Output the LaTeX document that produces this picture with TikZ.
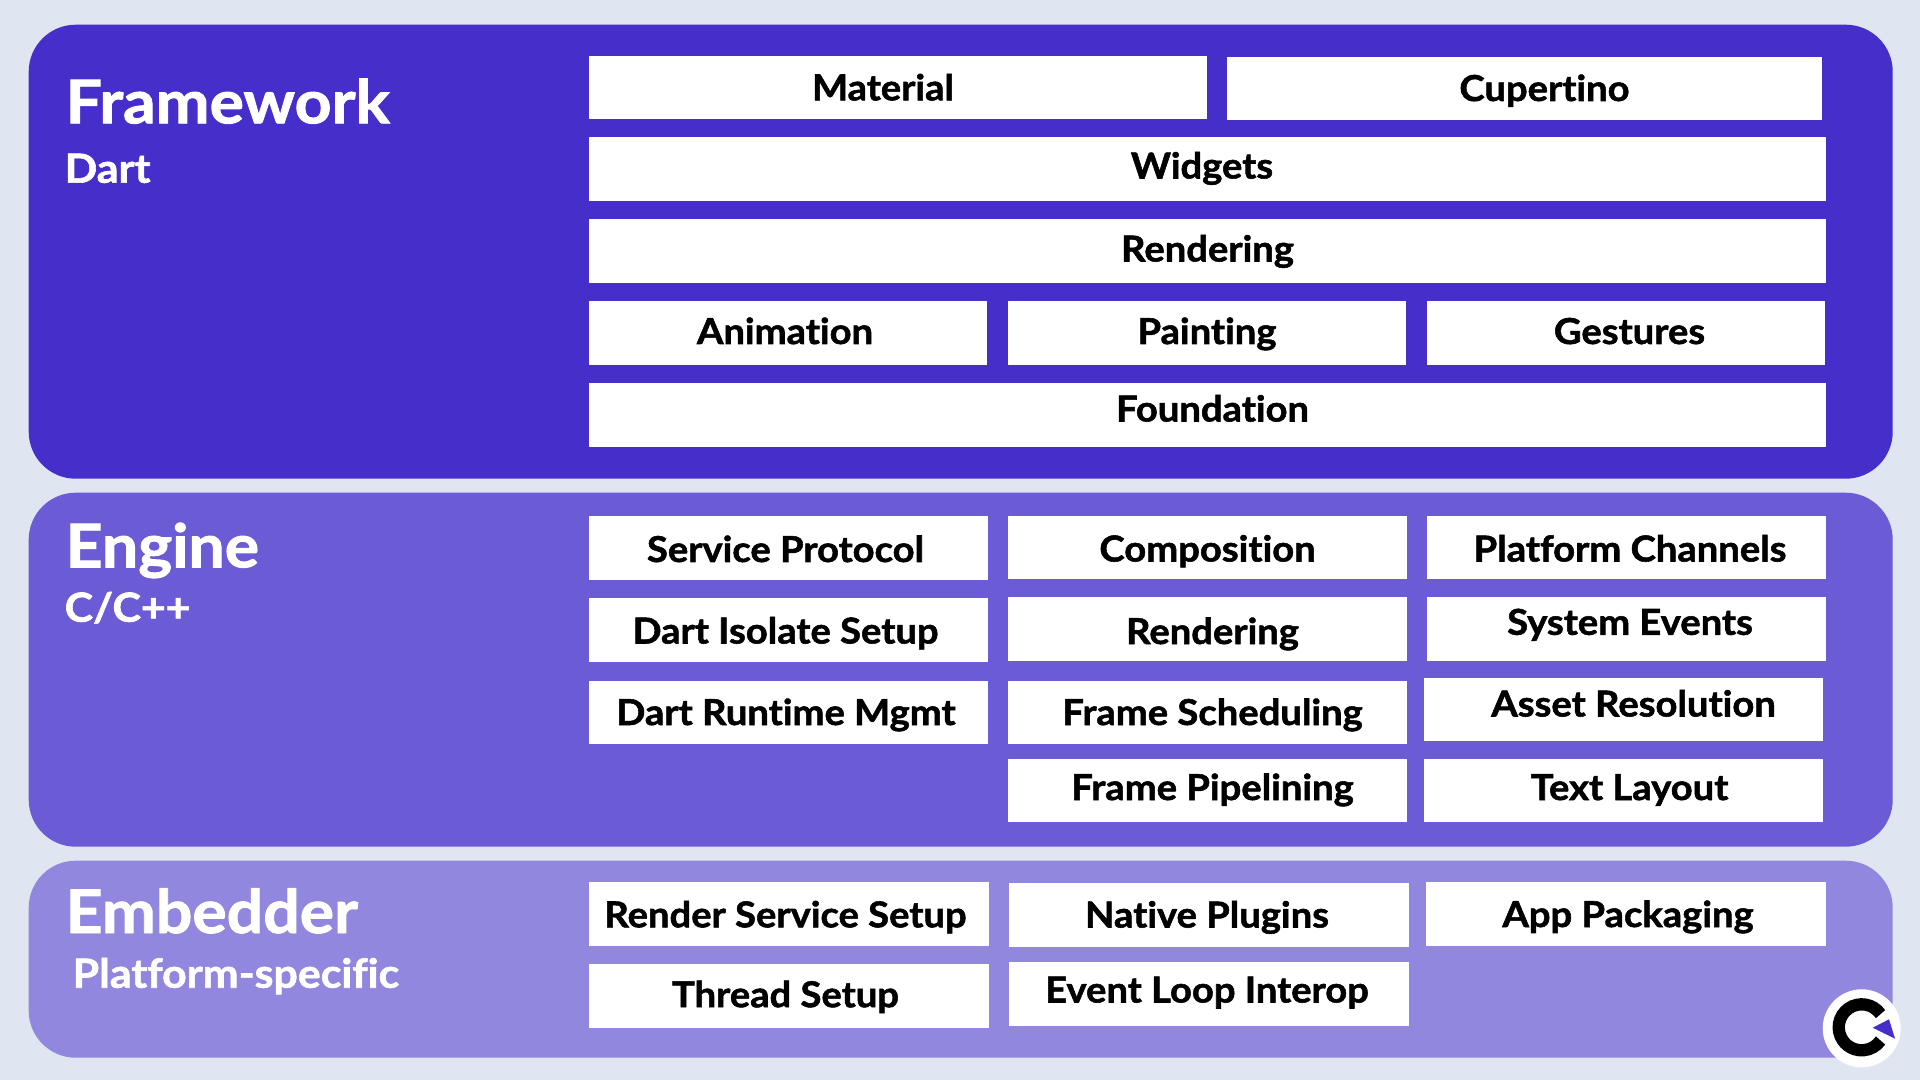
\documentclass[tikz,border=0pt]{standalone}
\usepackage{fontspec}
\setmainfont{Lato}[Ligatures=NoCommon, FakeStretch=1.07, BoldFeatures={FakeBold=1.5}]
\usetikzlibrary{
    positioning,
    calc
}
\definecolor{pagebg}{HTML}{DFE6F2}
\definecolor{frameworkbg}{HTML}{452ECA}
\definecolor{enginebg}{HTML}{6B5BD5}
\definecolor{embedderbg}{HTML}{9187DF}
\newcommand{\shifted}[3]{\raisebox{#2}{\makebox[0pt][c]{\kern #1 #3\kern -#1}}}
\tikzset{
    layer/.style={rounded corners=0.47cm, inner sep=0pt, anchor=north west},
    box/.style={fill=white, inner sep=0pt, text=black, minimum height=0.635cm, text height=0pt, text depth=0pt, font=\fontsize{10.15pt}{12pt}\bfseries},
    title/.style={text=white, anchor=base west, inner sep=0pt, font=\fontsize{17.1pt}{20pt}\bfseries},
    subtitle/.style={text=white, anchor=base west, inner sep=0pt, font=\fontsize{11.4pt}{13pt}\bfseries}
}
\begin{document}
\begin{tikzpicture}
    \useasboundingbox (0, 0) rectangle (19.2, -10.8);
    \fill[pagebg] (0, 0) rectangle (19.2, -10.8);
    \node[layer, fill=frameworkbg, minimum width=18.64cm, minimum height=4.54cm] (framework) at (0.28, -0.24) {};
    \node[layer, fill=enginebg, minimum width=18.64cm, minimum height=3.54cm] (engine) at (0.28, -4.92) {};
    \node[layer, fill=embedderbg, minimum width=18.64cm, minimum height=1.97cm] (embedder) at (0.28, -8.60) {};
    \node[title] (frameworkt) at (0.65, -1.233) {Framework};
    \node[subtitle] (frameworks) at (0.64, -1.827) {Dart};
    \node[title] (enginet) at (0.65, -5.673) {Engine};
    \node[subtitle] (engines) at (0.64, -6.217) {C/C++};
    \node[title] (embeddert) at (0.65, -9.33) {Embedder};
    \node[subtitle] (embedders) at (0.72, -9.877) {Platform-specific};
    \node[box, minimum width=6.18cm] (material) at (8.98, -0.873) {\shifted{-0.15cm}{-0.13cm}{Material}};
    \node[box, minimum width=5.95cm] (cupertino) at (15.245, -0.885) {\shifted{0.2cm}{-0.125cm}{Cupertino}};
    \node[box, minimum width=12.37cm] (widgets) at (12.075, -1.692) {\shifted{-0.055cm}{-0.093cm}{Widgets}};
    \node[box, minimum width=12.37cm] (renderingf) at (12.075, -2.51) {\shifted{0cm}{-0.105cm}{Rendering}};
    \node[box, minimum width=3.98cm] (animation) at (7.88, -3.33) {\shifted{-0.03cm}{-0.11cm}{Animation}};
    \node[box, minimum width=3.98cm] (painting) at (12.07, -3.33) {\shifted{0cm}{-0.11cm}{Painting}};
    \node[box, minimum width=3.98cm] (gestures) at (16.255, -3.33) {\shifted{0.04cm}{-0.11cm}{Gestures}};
    \node[box, minimum width=12.37cm] (foundation) at (12.075, -4.15) {\shifted{0.05cm}{-0.065cm}{Foundation}};
    \node[box, minimum width=3.99cm] (service) at (7.885, -5.48) {\shifted{-0.03cm}{-0.14cm}{Service Protocol}};
    \node[box, minimum width=3.99cm] (composition) at (12.075, -5.475) {\shifted{0cm}{-0.14cm}{Composition}};
    \node[box, minimum width=3.99cm] (channels) at (16.265, -5.475) {\shifted{0.035cm}{-0.14cm}{Platform Channels}};
    \node[box, minimum width=3.99cm] (isolate) at (7.885, -6.30) {\shifted{-0.03cm}{-0.135cm}{Dart Isolate Setup}};
    \node[box, minimum width=3.99cm] (renderinge) at (12.075, -6.29) {\shifted{0.05cm}{-0.15cm}{Rendering}};
    \node[box, minimum width=3.99cm] (events) at (16.265, -6.29) {\shifted{0.035cm}{-0.058cm}{System Events}};
    \node[box, minimum width=3.99cm] (runtime) at (7.885, -7.123) {\shifted{-0.025cm}{-0.127cm}{Dart Runtime Mgmt}};
    \node[box, minimum width=3.99cm] (scheduling) at (12.075, -7.123) {\shifted{0.05cm}{-0.127cm}{Frame Scheduling}};
    \node[box, minimum width=3.99cm] (asset) at (16.235, -7.097) {\shifted{0.1cm}{-0.068cm}{Asset Resolution}};
    \node[box, minimum width=3.99cm] (pipelining) at (12.075, -7.907) {\shifted{0.05cm}{-0.093cm}{Frame Pipelining}};
    \node[box, minimum width=3.99cm] (layout) at (16.235, -7.907) {\shifted{0.06cm}{-0.093cm}{Text Layout}};
    \node[box, minimum width=4.0cm] (renderservice) at (7.89, -9.138) {\shifted{-0.035cm}{-0.135cm}{Render Service Setup}};
    \node[box, minimum width=4.0cm] (plugins) at (12.09, -9.15) {\shifted{-0.02cm}{-0.125cm}{Native Plugins}};
    \node[box, minimum width=4.0cm] (packaging) at (16.255, -9.14) {\shifted{0.025cm}{-0.13cm}{App Packaging}};
    \node[box, minimum width=4.0cm] (thread) at (7.89, -9.96) {\shifted{-0.035cm}{-0.112cm}{Thread Setup}};
    \node[box, minimum width=4.0cm] (interop) at (12.09, -9.94) {\shifted{-0.02cm}{-0.085cm}{Event Loop Interop}};
    % logo
    \node[circle, fill=white, minimum size=0.78cm, inner sep=0pt] (logo) at (18.617, -10.283) {};
    \draw[black, line width=0.123cm] (18.617, -10.273) ++(35:0.23) arc (35:325:0.23);
    \fill[frameworkbg] (18.727, -10.277) -- (18.89, -10.193) -- (18.95, -10.387) -- cycle;
\end{tikzpicture}
\end{document}
